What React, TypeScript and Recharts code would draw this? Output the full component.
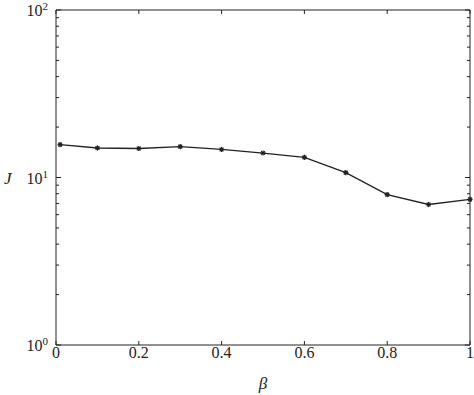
import React from 'react';
import { LineChart, Line, XAxis, YAxis, Label } from 'recharts';

// beta sweep and the measured J (log axis)
const betaValues = [0.01, 0.1, 0.2, 0.3, 0.4, 0.5, 0.6, 0.7, 0.8, 0.9, 1.0];
const jValues = [15.7, 15.0, 14.9, 15.3, 14.7, 14.0, 13.2, 10.7, 7.9, 6.9, 7.4];

const xTicks = [0, 0.2, 0.4, 0.6, 0.8, 1];
const yMajorTicks = [1, 10, 100];
const yMinorTicks = [2, 3, 4, 5, 6, 7, 8, 9, 20, 30, 40, 50, 60, 70, 80, 90];
const yTicks = [...yMajorTicks, ...yMinorTicks].sort((a, b) => a - b);

const data = betaValues.map((beta, i) => ({ beta, J: jValues[i] }));

const INK = '#222';
const FONT = '"Liberation Serif", "Times New Roman", serif';

const fmtX = (v: number) => (v === 0 || v === 1 ? String(v) : v.toFixed(1));

const LeftTick = (props: any) => {
  const { x, y, payload } = props;
  const v = payload.value;
  const major = yMajorTicks.includes(v);
  return (
    <g>
      <line x1={x} x2={x + (major ? 5 : 3)} y1={y} y2={y} stroke={INK} strokeWidth={1} />
      {major && (
        <text x={x - 8} y={y + 6} textAnchor="end" fontFamily={FONT} fontSize={16} fill={INK}>
          10
          <tspan fontSize={11} dy={-6}>{Math.round(Math.log10(v))}</tspan>
        </text>
      )}
    </g>
  );
};

const RightTick = (props: any) => {
  const { x, y, payload } = props;
  const major = yMajorTicks.includes(payload.value);
  return <line x1={x} x2={x - (major ? 5 : 3)} y1={y} y2={y} stroke={INK} strokeWidth={1} />;
};

const BottomTick = (props: any) => {
  const { x, y, payload } = props;
  return (
    <g>
      <line x1={x} x2={x} y1={y} y2={y - 4} stroke={INK} strokeWidth={1} />
      <text x={x} y={y + 13} textAnchor="middle" fontFamily={FONT} fontSize={16} fill={INK}>
        {fmtX(payload.value)}
      </text>
    </g>
  );
};

const TopTick = (props: any) => {
  const { x, y } = props;
  return <line x1={x} x2={x} y1={y} y2={y + 4} stroke={INK} strokeWidth={1} />;
};

const StarDot = (props: any) => {
  const { cx, cy, index } = props;
  const s = 2.6;
  const d = s * 0.72;
  return (
    <g key={`dot-${index}`} stroke={INK} strokeWidth={1.3}>
      <line x1={cx - s} x2={cx + s} y1={cy} y2={cy} />
      <line x1={cx} x2={cx} y1={cy - s} y2={cy + s} />
      <line x1={cx - d} x2={cx + d} y1={cy - d} y2={cy + d} />
      <line x1={cx - d} x2={cx + d} y1={cy + d} y2={cy - d} />
    </g>
  );
};

export default function App() {
  return (
    <div style={{ position: 'absolute', left: 0, top: 0, background: '#fff' }}>
      <LineChart width={474} height={395} data={data} margin={{ top: 9, right: 3, bottom: 0, left: 0 }}>
        <XAxis
          xAxisId="bottom"
          dataKey="beta"
          type="number"
          domain={[0, 1]}
          ticks={xTicks}
          orientation="bottom"
          height={50}
          axisLine={{ stroke: INK, strokeWidth: 1 }}
          tickLine={false}
          tickSize={0}
          tickMargin={0}
          tick={BottomTick}
          interval={0}
        >
          <Label
            value="β"
            position="insideBottom"
            offset={6}
            style={{ fontFamily: FONT, fontSize: 17, fontStyle: 'italic', fill: INK }}
          />
        </XAxis>
        <XAxis
          xAxisId="top"
          dataKey="beta"
          type="number"
          domain={[0, 1]}
          ticks={xTicks}
          orientation="top"
          height={1}
          axisLine={{ stroke: INK, strokeWidth: 1 }}
          tickLine={false}
          tickSize={0}
          tickMargin={0}
          tick={TopTick}
          interval={0}
        />
        <YAxis
          yAxisId="left"
          type="number"
          scale="log"
          domain={[1, 100]}
          allowDataOverflow
          ticks={yTicks}
          width={56}
          axisLine={{ stroke: INK, strokeWidth: 1 }}
          tickLine={false}
          tickSize={0}
          tickMargin={0}
          tick={LeftTick}
          interval={0}
        >
          <Label
            value="J"
            position="insideLeft"
            offset={4}
            angle={0}
            style={{ fontFamily: FONT, fontSize: 17, fontStyle: 'italic', fill: INK, textAnchor: 'start' }}
          />
        </YAxis>
        <YAxis
          yAxisId="right"
          orientation="right"
          type="number"
          scale="log"
          domain={[1, 100]}
          allowDataOverflow
          ticks={yTicks}
          width={1}
          axisLine={{ stroke: INK, strokeWidth: 1 }}
          tickLine={false}
          tickSize={0}
          tickMargin={0}
          tick={RightTick}
          interval={0}
        />
        <Line
          xAxisId="bottom"
          yAxisId="left"
          dataKey="J"
          type="linear"
          stroke={INK}
          strokeWidth={1.3}
          dot={StarDot}
          activeDot={false}
          isAnimationActive={false}
        />
      </LineChart>
    </div>
  );
}
